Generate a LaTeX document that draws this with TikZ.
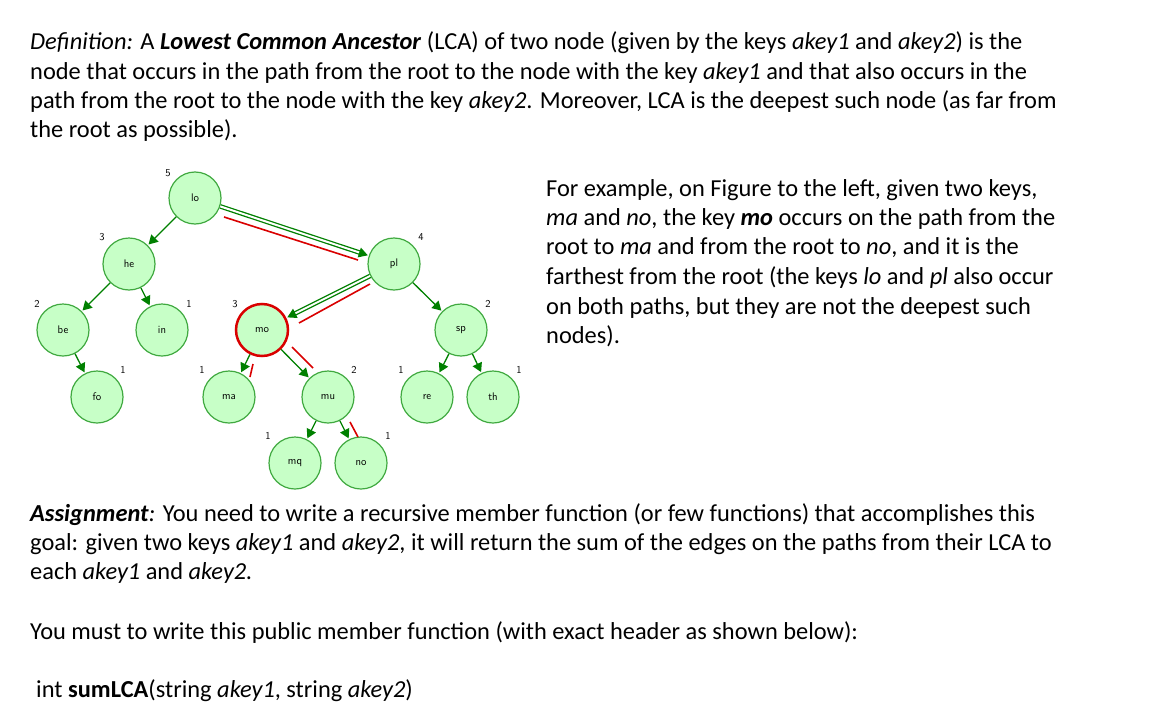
\documentclass[tikz,border=0pt]{standalone}
\usepackage{fontspec}
\setmainfont{Carlito}
\usetikzlibrary{arrows.meta}
\begin{document}
\begin{tikzpicture}[x=1pt,y=-1pt,
  tn/.style={circle,draw=green!55!black!75,line width=1.2pt,fill=green!22,minimum size=52pt,inner sep=0pt,font=\sffamily\fontsize{11}{12}\selectfont},
  num/.style={font=\sffamily\fontsize{10.5}{11}\selectfont},
  ed/.style={draw=green!50!black,line width=1.3pt,-{Triangle[length=9pt,width=10pt]},shorten >=1pt},
  dd/.style={ed,double=white,double distance=2pt},
  rl/.style={draw=red!85!black,line width=1.6pt},
  tx/.style={anchor=base west,inner sep=0pt,font=\fontsize{24.4}{28}\selectfont}]
\useasboundingbox (0,0) rectangle (1150,717);
\node[tx] (t1) at (30,50) {\textit{Definition:} A \textbf{\textit{Lowest Common Ancestor}} (LCA) of two node (given by the keys \textit{akey1} and \textit{akey2}) is the};
\node[tx] (t2) at (30,79) {node that occurs in the path from the root to the node with the key \textit{akey1} and that also occurs in the};
\node[tx] (t3) at (30,108) {path from the root to the node with the key \textit{akey2}. Moreover, LCA is the deepest such node (as far from};
\node[tx] (t4) at (30,137) {the root as possible).};
\node[tx] (r1) at (546,196) {For example, on Figure to the left, given two keys,};
\node[tx] (r2) at (546,225) {\textit{ma} and \textit{no}, the key \textbf{\textit{mo}} occurs on the path from the};
\node[tx] (r3) at (546,254) {root to \textit{ma} and from the root to \textit{no}, and it is the};
\node[tx] (r4) at (546,284) {farthest from the root (the keys \textit{lo} and \textit{pl} also occur};
\node[tx] (r5) at (546,314) {on both paths, but they are not the deepest such};
\node[tx] (r6) at (546,343) {nodes).};
\node[tx] (a1) at (30,521) {\textbf{\textit{Assignment}}\textit{:} You need to write a recursive member function (or few functions) that accomplishes this};
\node[tx] (a2) at (30,550) {goal: given two keys \textit{akey1} and \textit{akey2}, it will return the sum of the edges on the paths from their LCA to};
\node[tx] (a3) at (30,579) {each \textit{akey1} and \textit{akey2.}};
\node[tx] (y1) at (30,639) {You must to write this public member function (with exact header as shown below):};
\node[tx] (h1) at (36,697) {int \textbf{sumLCA}(string \textit{akey1}, string \textit{akey2})};

\node[tn] (lo) at (195,198) {lo};
\node[tn] (he) at (129,264) {he};
\node[tn] (pl) at (394,264) {pl};
\node[tn] (be) at (63,330) {be};
\node[tn] (in) at (162,330) {in};
\node[tn,draw=red!85!black,line width=2.5pt] (mo) at (262,330) {mo};
\node[tn] (sp) at (461,330) {sp};
\node[tn] (fo) at (97,397) {fo};
\node[tn] (ma) at (229,397) {ma};
\node[tn] (mu) at (328,397) {mu};
\node[tn] (re) at (427,397) {re};
\node[tn] (th) at (493,397) {th};
\node[tn] (mq) at (295,463) {mq};
\node[tn] (no) at (361,463) {no};

\node[num] (n1) at (168,173) {5};
\node[num] (n2) at (102,237) {3};
\node[num] (n3) at (421,237) {4};
\node[num] (n4) at (37,304) {2};
\node[num] (n5) at (189,304) {1};
\node[num] (n6) at (235,304) {3};
\node[num] (n7) at (488,304) {2};
\node[num] (n8) at (123,370) {1};
\node[num] (n9) at (202,370) {1};
\node[num] (n10) at (354,370) {2};
\node[num] (n11) at (401,370) {1};
\node[num] (n12) at (519,370) {1};
\node[num] (n13) at (268,436) {1};
\node[num] (n14) at (388,436) {1};

\draw[ed] (lo) -- (he);
\draw[dd] (lo) -- (pl);
\draw[ed] (he) -- (be);
\draw[ed] (he) -- (in);
\draw[dd] (pl) -- (mo);
\draw[ed] (pl) -- (sp);
\draw[ed] (be) -- (fo);
\draw[ed] (mo) -- (ma);
\draw[ed] (mo) -- (mu);
\draw[ed] (sp) -- (re);
\draw[ed] (sp) -- (th);
\draw[ed] (mu) -- (mq);
\draw[ed] (mu) -- (no);

\coordinate (c1) at (224,217); \coordinate (c2) at (358,260);
\coordinate (c3) at (370,284); \coordinate (c4) at (299,323);
\coordinate (c5) at (253,364); \coordinate (c6) at (250,377);
\coordinate (c7) at (292,347); \coordinate (c8) at (313,368);
\coordinate (c9) at (350,422); \coordinate (c10) at (358,437);
\draw[rl] (c1) -- (c2);
\draw[rl] (c3) -- (c4);
\draw[rl] (c5) -- (c6);
\draw[rl] (c7) -- (c8);
\draw[rl] (c9) -- (c10);
\end{tikzpicture}
\end{document}
